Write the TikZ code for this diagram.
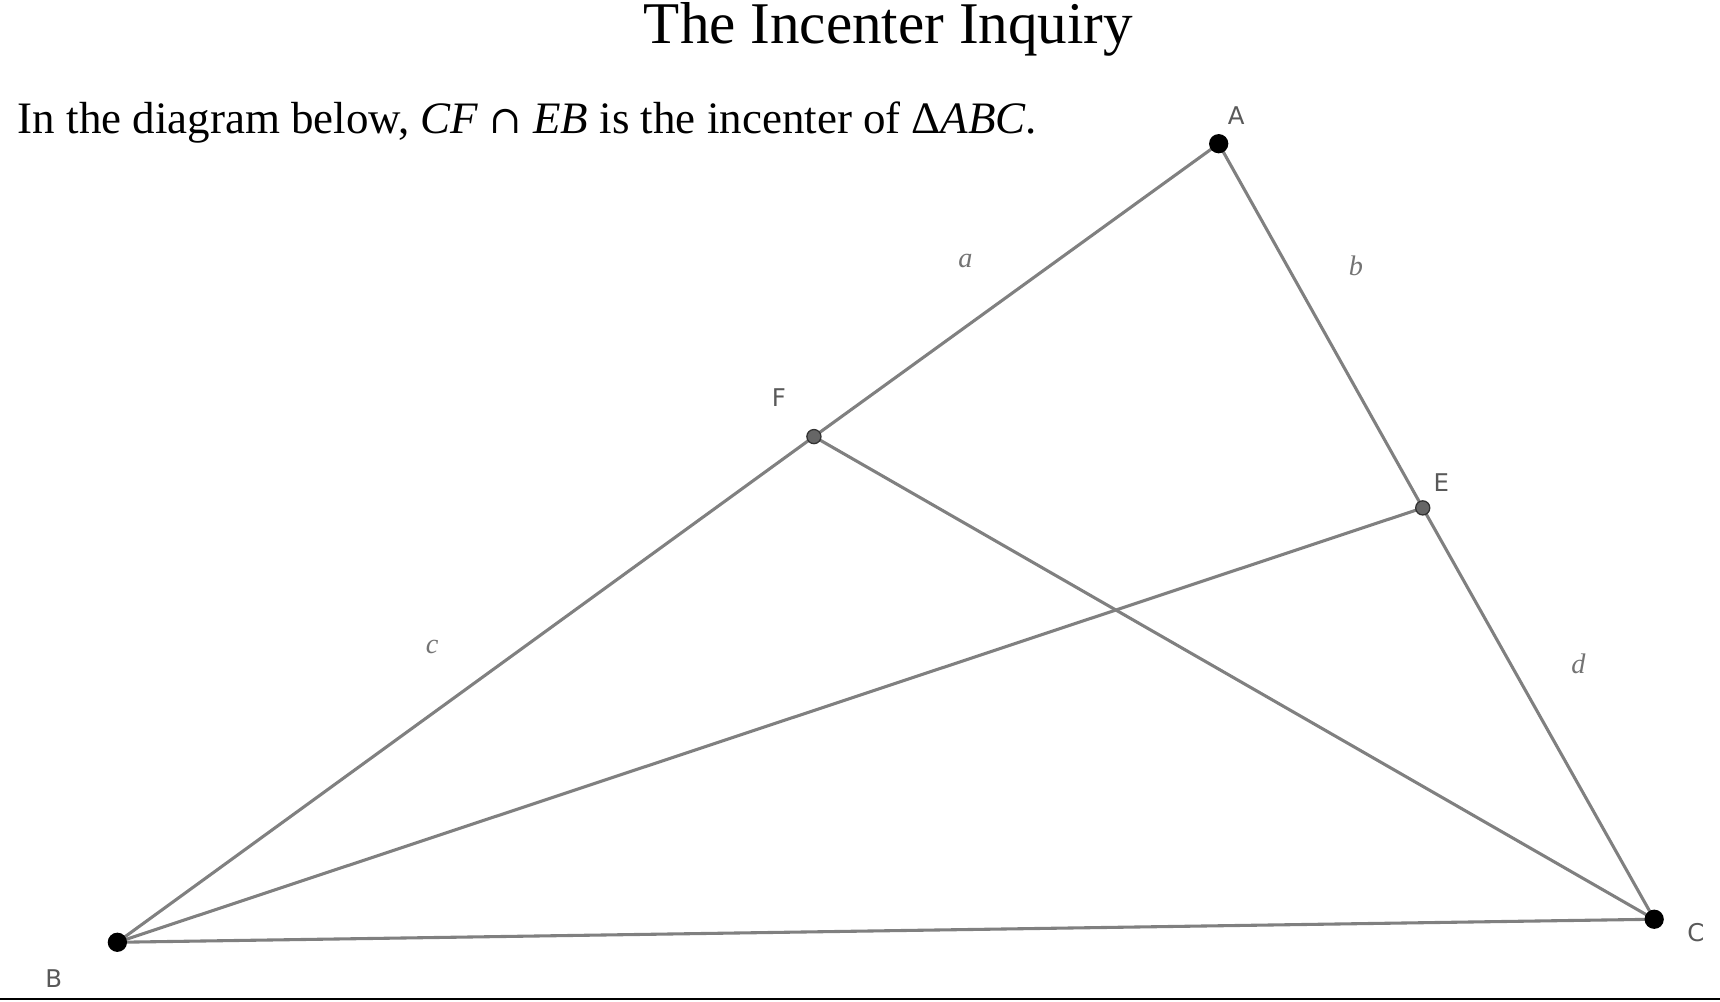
\documentclass[tikz,border=0pt]{standalone}
\usepackage{fontspec}
\setmainfont{Liberation Serif}
\newfontfamily\lblfont{DejaVu Sans}
\newfontfamily\symfont{DejaVu Serif}
\begin{document}
\begin{tikzpicture}[x=0.03cm,y=-0.03cm,
  seg/.style={draw=black!50,line width=2.4pt},
  bigpt/.style={circle,fill=black,inner sep=0pt,minimum size=15pt},
  smallpt/.style={circle,fill=black!60,draw=black!80,line width=1pt,inner sep=0pt,minimum size=11pt},
  ptlbl/.style={font=\lblfont\fontsize{19}{22}\selectfont,text=black!65},
  seglbl/.style={font=\itshape\fontsize{22}{24}\selectfont,text=black!55}]
\useasboundingbox (0,0) rectangle (1568,913);
\draw[line width=1.5pt] (0,911) -- (1568,911);
\node (title) at (810,27) {\fontsize{46}{50}\selectfont The Incenter Inquiry};
\node[anchor=west,inner sep=0pt] (txt) at (16,112) {\fontsize{35}{40}\selectfont In the diagram below, \textit{CF} {\symfont\fontsize{30}{34}\selectfont ∩} \textit{EB} is the incenter of Δ\textit{ABC}.};
\coordinate (A) at (1111,131);
\coordinate (B) at (107,859);
\coordinate (C) at (1508,838);
\coordinate (E) at (1297,463);
\coordinate (F) at (742,398);
\draw[seg] (A) -- (F) -- (B) -- (C) -- (E) -- (A);
\draw[seg] (F) -- (C);
\draw[seg] (B) -- (E);
\node[bigpt] (pA) at (A) {};
\node[bigpt] (pB) at (B) {};
\node[bigpt] (pC) at (C) {};
\node[smallpt] (pE) at (E) {};
\node[smallpt] (pF) at (F) {};
\node[ptlbl] (lA) at (1127,105) {A};
\node[ptlbl] (lB) at (49,892) {B};
\node[ptlbl] (lC) at (1546,850) {C};
\node[ptlbl] (lE) at (1314,440) {E};
\node[ptlbl] (lF) at (710,362) {F};
\node[seglbl] (la) at (880,238) {a};
\node[seglbl] (lb) at (1236,242) {b};
\node[seglbl] (lc) at (394,590) {c};
\node[seglbl] (ld) at (1439,605) {d};
\end{tikzpicture}
\end{document}
